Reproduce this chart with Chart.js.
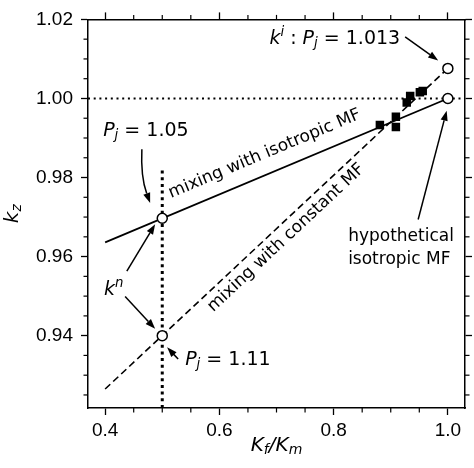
<!DOCTYPE html>
<html>
<head>
<meta charset="utf-8">
<script src="https://cdn.jsdelivr.net/npm/chart.js@4.4.1/dist/chart.umd.min.js"></script>
<style>
html,body{margin:0;padding:0;background:#fff;}
canvas{display:block;}
</style>
</head>
<body>
<canvas id="c" width="474" height="468"></canvas>
<script>
// ---------------- data ----------------
const isoLineX   = [0.4, 1.0];          // mixing with isotropic MF
const isoLineY   = [0.9636, 1.0];
const constLineX = [0.4, 1.0];          // mixing with constant MF
const constLineY = [0.9265, 1.0076];
const measuredX  = [0.881, 0.909, 0.909, 0.928, 0.934, 0.951, 0.956];
const measuredY  = [0.9933, 0.9928, 0.9954, 0.9990, 1.0006, 1.0016, 1.0019];
const markedX    = [0.5, 0.5, 1.0, 1.0];
const markedY    = [0.9697, 0.9400, 1.0000, 1.0076];
const refKzX     = [0.37, 1.03];        // k_z = 1 reference
const refKzY     = [1.0, 1.0];
const refKfX     = [0.5, 0.5];          // Kf/Km = 0.5 reference
const refKfY     = [0.9217, 0.982];
const xTickLabels = ['0.4', '0.6', '0.8', '1.0'];
const yTickLabels = ['0.94', '0.96', '0.98', '1.00', '1.02'];

// ---------------- annotations (data coordinates) ----------------
const annotationTexts = [
  {segs: [['P','i'],['j','isub'],[' = 1.05','']], x: 0.3965, y: 0.9906, align: 'left'},
  {segs: [['k','i'],['n','isup']], x: 0.3982, y: 0.9504, align: 'left'},
  {segs: [['P','i'],['j','isub'],[' = 1.11','']], x: 0.5401, y: 0.9326, align: 'left'},
  {segs: [['k','i'],['i','isup'],[' : ',''],['P','i'],['j','isub'],[' = 1.013','']], x: 0.9165, y: 1.0138, align: 'right'}
];
const plainTexts = [
  {text: 'hypothetical', x: 0.8254, y: 0.96395},
  {text: 'isotropic MF', x: 0.8254, y: 0.95802}
];
const lineLabels = [
  {text: 'mixing with isotropic MF', x: 0.5155, y: 0.97481, lineX: isoLineX, lineY: isoLineY},
  {text: 'mixing with constant MF', x: 0.5891, y: 0.94593, lineX: constLineX, lineY: constLineY}
];
const arrows = [
  {x1: 0.4643, y1: 0.98716, x2: 0.4788, y2: 0.97358, bend: 0.1},
  {x1: 0.4380, y1: 0.9563, x2: 0.4875, y2: 0.96815, bend: 0},
  {x1: 0.4350, y1: 0.94988, x2: 0.4875, y2: 0.94173, bend: 0},
  {x1: 0.5278, y1: 0.93407, x2: 0.5085, y2: 0.93704, bend: 0},
  {x1: 0.9252, y1: 1.01556, x2: 0.9830, y2: 1.00963, bend: 0},
  {x1: 0.9480, y1: 0.96938, x2: 0.9979, y2: 0.99691, bend: 0}
];

const pts = (xs, ys) => xs.map((x, i) => ({x: x, y: ys[i]}));
const near = (a, b) => Math.abs(a - b) < 1e-7;
const isMajor = (v, labels) => labels.some(l => near(parseFloat(l), v));
const labelFor = (v, labels) => labels.find(l => near(parseFloat(l), v)) || '';

const TXT = '"DejaVu Sans", sans-serif';
const tickFont = {family: '"Liberation Sans", Arial, sans-serif', size: 19};

function richWidth(ctx, segs, size) {
  let w = 0;
  for (const [t, f] of segs) {
    const s = (f.includes('sub') || f.includes('sup')) ? size * 0.7 : size;
    ctx.font = (f.includes('i') ? 'italic ' : '') + s + 'px ' + TXT;
    w += ctx.measureText(t).width;
  }
  return w;
}
function drawRich(ctx, segs, x, y, size, align) {
  let cx = align === 'right' ? x - richWidth(ctx, segs, size)
         : align === 'center' ? x - richWidth(ctx, segs, size) / 2 : x;
  ctx.textAlign = 'left';
  ctx.textBaseline = 'alphabetic';
  for (const [t, f] of segs) {
    let s = size, dy = 0;
    if (f.includes('sub')) { s = size * 0.7; dy = size * 0.17; }
    if (f.includes('sup')) { s = size * 0.7; dy = -size * 0.42; }
    ctx.font = (f.includes('i') ? 'italic ' : '') + s + 'px ' + TXT;
    ctx.fillText(t, cx, y + dy);
    cx += ctx.measureText(t).width;
  }
}
function drawArrow(ctx, x1, y1, x2, y2, bend) {
  const mx = (x1 + x2) / 2, my = (y1 + y2) / 2, dx = x2 - x1, dy = y2 - y1;
  const cx = mx - dy * bend, cy = my + dx * bend;
  const ang = Math.atan2(y2 - cy, x2 - cx);
  const hl = 10, hw = 3.6;
  const bx = x2 - hl * Math.cos(ang), by = y2 - hl * Math.sin(ang);
  ctx.beginPath();
  ctx.moveTo(x1, y1);
  ctx.quadraticCurveTo(cx, cy, bx, by);
  ctx.stroke();
  ctx.beginPath();
  ctx.moveTo(x2, y2);
  ctx.lineTo(bx + hw * Math.sin(ang), by - hw * Math.cos(ang));
  ctx.lineTo(bx - hw * Math.sin(ang), by + hw * Math.cos(ang));
  ctx.closePath();
  ctx.fill();
}

const extrasPlugin = {
  id: 'extras',
  afterDraw(chart) {
    const ctx = chart.ctx, a = chart.chartArea;
    const sx = chart.scales.x, sy = chart.scales.y;
    ctx.save();
    ctx.strokeStyle = '#000';
    ctx.fillStyle = '#000';
    // minor ticks (outward)
    ctx.lineWidth = 1.2;
    const minorLen = 4.5;
    for (const t of sx.ticks) {
      if (isMajor(t.value, xTickLabels)) continue;
      const p = sx.getPixelForValue(t.value);
      ctx.beginPath(); ctx.moveTo(p, a.bottom); ctx.lineTo(p, a.bottom + minorLen); ctx.stroke();
      ctx.beginPath(); ctx.moveTo(p, a.top); ctx.lineTo(p, a.top - minorLen); ctx.stroke();
    }
    for (const t of sy.ticks) {
      if (isMajor(t.value, yTickLabels)) continue;
      const p = sy.getPixelForValue(t.value);
      ctx.beginPath(); ctx.moveTo(a.left, p); ctx.lineTo(a.left - minorLen, p); ctx.stroke();
      ctx.beginPath(); ctx.moveTo(a.right, p); ctx.lineTo(a.right + minorLen, p); ctx.stroke();
    }
    // arrows
    ctx.lineWidth = 1.5;
    for (const ar of arrows) {
      drawArrow(ctx, sx.getPixelForValue(ar.x1), sy.getPixelForValue(ar.y1),
                sx.getPixelForValue(ar.x2), sy.getPixelForValue(ar.y2), ar.bend);
    }
    // math annotations
    for (const t of annotationTexts) {
      drawRich(ctx, t.segs, sx.getPixelForValue(t.x), sy.getPixelForValue(t.y), 19, t.align);
    }
    // plain annotations
    ctx.font = '17px ' + TXT;
    ctx.textAlign = 'left';
    ctx.textBaseline = 'alphabetic';
    for (const t of plainTexts) {
      ctx.fillText(t.text, sx.getPixelForValue(t.x), sy.getPixelForValue(t.y));
    }
    // rotated labels along the lines
    for (const l of lineLabels) {
      const ang = Math.atan2(sy.getPixelForValue(l.lineY[1]) - sy.getPixelForValue(l.lineY[0]),
                             sx.getPixelForValue(l.lineX[1]) - sx.getPixelForValue(l.lineX[0]));
      ctx.save();
      ctx.translate(sx.getPixelForValue(l.x), sy.getPixelForValue(l.y));
      ctx.rotate(ang);
      ctx.font = '17px ' + TXT;
      ctx.fillText(l.text, 0, 0);
      ctx.restore();
    }
    // axis titles
    drawRich(ctx, [['K','i'],['f','isub'],['/','i'],['K','i'],['m','isub']],
             (a.left + a.right) / 2, a.bottom + 43, 20, 'center');
    ctx.save();
    ctx.translate(a.left - 70, (a.top + a.bottom) / 2);
    ctx.rotate(-Math.PI / 2);
    drawRich(ctx, [['k','i'],['z','isub']], 0, 0, 20, 'center');
    ctx.restore();
    ctx.restore();
  }
};

const gridFor = (labels) => ({
  display: true, drawOnChartArea: false, drawTicks: true, tickLength: 7, tickWidth: 1.3,
  tickColor: c => (c.tick && isMajor(c.tick.value, labels)) ? '#000' : 'rgba(0,0,0,0)'
});
const borderOpt = {display: true, color: '#000', width: 1.5};

new Chart(document.getElementById('c'), {
  type: 'scatter',
  data: {
    datasets: [
      {data: pts(markedX, markedY), pointStyle: 'circle', pointRadius: 5, pointBorderWidth: 1.5,
       pointBackgroundColor: '#fff', pointBorderColor: '#000', showLine: false, order: 0},
      {data: pts(measuredX, measuredY), pointStyle: 'rect', pointRadius: 6, pointBorderWidth: 0,
       pointBackgroundColor: '#000', pointBorderColor: '#000', showLine: false, order: 1},
      {data: pts(isoLineX, isoLineY), showLine: true, pointRadius: 0, borderColor: '#000',
       borderWidth: 1.8, order: 2},
      {data: pts(constLineX, constLineY), showLine: true, pointRadius: 0, borderColor: '#000',
       borderWidth: 1.6, borderDash: [7, 4], order: 3},
      {data: pts(refKzX, refKzY), showLine: true, pointRadius: 0, borderColor: '#000',
       borderWidth: 2, borderDash: [2, 3.7], order: 4},
      {data: pts(refKfX, refKfY), showLine: true, pointRadius: 0, borderColor: '#000',
       borderWidth: 3, borderDash: [3, 3.7], order: 5}
    ]
  },
  options: {
    responsive: false,
    animation: false,
    devicePixelRatio: 1,
    layout: {padding: 0},
    plugins: {legend: {display: false}, tooltip: {enabled: false}},
    scales: {
      x: {type: 'linear', position: 'bottom', min: 0.37, max: 1.03,
          ticks: {stepSize: 0.05, includeBounds: false, autoSkip: false, maxRotation: 0, minRotation: 0,
                  color: '#000', font: tickFont, padding: 4,
                  callback: v => labelFor(v, xTickLabels)},
          grid: gridFor(xTickLabels), border: borderOpt,
          afterFit: s => { s.height = 60; }},
      x2: {type: 'linear', position: 'top', min: 0.37, max: 1.03,
          ticks: {stepSize: 0.05, includeBounds: false, autoSkip: false, display: false},
          grid: gridFor(xTickLabels), border: borderOpt,
          afterFit: s => { s.height = 10; }},
      y: {type: 'linear', position: 'left', min: 0.9217, max: 1.02,
          ticks: {stepSize: 0.005, includeBounds: false, autoSkip: false,
                  color: '#000', font: tickFont, padding: 8,
                  callback: v => labelFor(v, yTickLabels)},
          grid: gridFor(yTickLabels), border: borderOpt,
          afterFit: s => { s.width = 88; }},
      y2: {type: 'linear', position: 'right', min: 0.9217, max: 1.02,
          ticks: {stepSize: 0.005, includeBounds: false, autoSkip: false, display: false},
          grid: gridFor(yTickLabels), border: borderOpt,
          afterFit: s => { s.width = 9; }}
    }
  },
  plugins: [extrasPlugin]
});
</script>
</body>
</html>
